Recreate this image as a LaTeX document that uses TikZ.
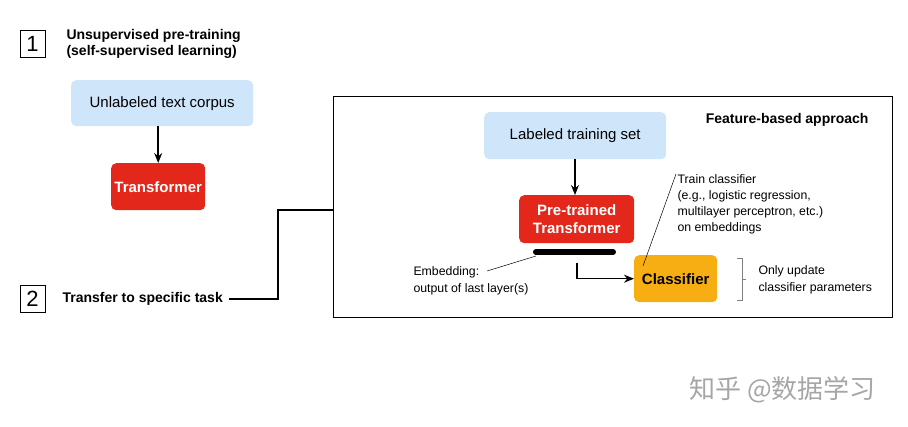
\documentclass[tikz,border=0pt]{standalone}
\usepackage{fontspec}
\setmainfont{Liberation Sans}
\newfontfamily\cjk{Noto Sans CJK SC}
\usetikzlibrary{arrows.meta}
\definecolor{lblue}{HTML}{CFE6FA}
\definecolor{tred}{HTML}{E3281B}
\definecolor{corange}{HTML}{F7AE12}
\begin{document}
\begin{tikzpicture}[x=1pt,y=-1pt,
  box/.style={rounded corners=5pt,inner sep=0pt,anchor=north west},
  blue/.style={box,fill=lblue,font=\fontsize{15}{17}\selectfont},
  red/.style={box,fill=tred,text=white,font=\bfseries\fontsize{15}{18}\selectfont,align=center},
  num/.style={draw,line width=1pt,minimum width=25pt,minimum height=27pt,inner sep=0pt,font=\fontsize{22}{22}\selectfont},
  title/.style={font=\bfseries\fontsize{14}{16}\selectfont,align=left,anchor=west},
  small/.style={font=\fontsize{12.3}{17}\selectfont,align=left},
  arr/.style={-{Stealth[length=10pt,width=8pt]},line width=1.5pt}]
\useasboundingbox (0,0) rectangle (908,426);
\node[num] (n1) at (32.5,43.5) {1};
\node[title] (t1) at (63,43.5) {Unsupervised pre-training\\(self-supervised learning)};
\node[blue,minimum width=182pt,minimum height=46pt] (corpus) at (71,80) {Unlabeled text corpus};
\node[red,minimum width=94pt,minimum height=47pt] (tr) at (111,163) {Transformer};
\draw[arr] (corpus.south -| tr.north) -- (tr.north);
\node[num] (n2) at (32.5,298.5) {2};
\node[title] (t2) at (59,299) {Transfer to specific task};
\node[draw,line width=0.9pt,anchor=north west,minimum width=559pt,minimum height=221pt,inner sep=0pt] (big) at (333,96) {};
\draw[line width=1.2pt] (t2.east) ++(3,0) -- (278,299) |- (big.west |- 0,210);
\node[font=\bfseries\fontsize{14}{16}\selectfont,anchor=east] (fb) at (872,120) {Feature-based approach};
\node[blue,minimum width=182pt,minimum height=47pt] (lab) at (484,112) {Labeled training set};
\node[red,minimum width=115pt,minimum height=48pt] (pt) at (519,195) {Pre-trained\\Transformer};
\draw[arr] (lab.south -| 575,0) -- (pt.north -| 575,0);
\coordinate (b1) at (536,252); \coordinate (b2) at (613,252);
\draw[line width=6pt,line cap=round] (b1) -- (b2);
\node[box,fill=corange,minimum width=83pt,minimum height=47pt,font=\bfseries\fontsize{15}{17}\selectfont] (cl) at (634,255) {Classifier};
\coordinate (e0) at (577,263);
\draw[arr] (e0) |- (cl.west);
\node[small,anchor=north west] (emb) at (410,263) {Embedding:\\output of last layer(s)};
\draw[line width=0.5pt] (487,271) -- (536,256);
\node[small,anchor=north west,font=\fontsize{12.3}{16}\selectfont] (tc) at (674,171) {Train classifier\\(e.g., logistic regression,\\multilayer perceptron, etc.)\\on embeddings};
\draw[line width=0.5pt] (643,266) -- (676,174);
\draw[line width=0.5pt,gray] (737,258) -- (742,258) -- (742,300) -- (737,300) (742,279) -- (746,279);
\node[small,anchor=north west] (ou) at (755,262) {Only update\\classifier parameters};
\node[font=\cjk\fontsize{26}{26}\selectfont,text=gray!70,anchor=west] (wm) at (686,390) {知乎 @数据学习};
\end{tikzpicture}
\end{document}
